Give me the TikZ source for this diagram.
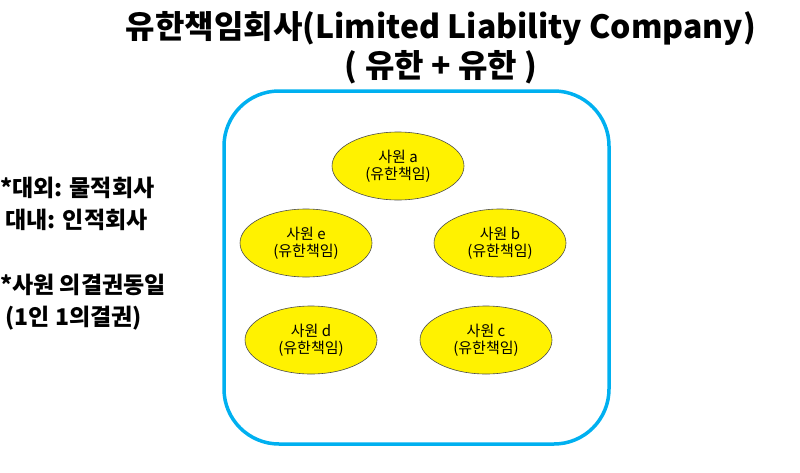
\documentclass[tikz,border=0pt]{standalone}
\usepackage{fontspec}
\setmainfont{Noto Sans CJK KR}
\usetikzlibrary{shapes.geometric}
\begin{document}
\begin{tikzpicture}[x=1pt,y=-1pt,
 mem/.style={ellipse,draw=black!70,line width=0.6pt,fill=yellow,minimum width=132pt,minimum height=68pt,align=center,font=\fontsize{15}{17}\selectfont,inner sep=0pt},
 side/.style={anchor=west,font=\bfseries\fontsize{23}{26}\selectfont,inner sep=0pt}]
\useasboundingbox (0,0) rectangle (800,472);
\node[font=\bfseries\fontsize{32}{35}\selectfont] (t1) at (441,28) {유한책임회사(Limited Liability Company)};
\node[font=\bfseries\fontsize{32}{35}\selectfont] (t2) at (441,67) {( 유한 + 유한 )};
\draw[line width=3.5pt,draw={rgb,255:red,0;green,176;blue,240},rounded corners=55pt] (224,91) rectangle (609,444);
\node[mem] (a) at (398,166) {사원 a\\(유한책임)};
\node[mem] (e) at (306,243) {사원 e\\(유한책임)};
\node[mem] (b) at (500,243) {사원 b\\(유한책임)};
\node[mem] (d) at (311,340) {사원 d\\(유한책임)};
\node[mem] (c) at (486,340) {사원 c\\(유한책임)};
\node[side] (l1) at (0,188) {*대외: 물적회사};
\node[side] (l2) at (0,220) {\ 대내: 인적회사};
\node[side] (l3) at (0,285) {*사원 의결권동일};
\node[side] (l4) at (0,318) {\ (1인 1의결권)};
\end{tikzpicture}
\end{document}
